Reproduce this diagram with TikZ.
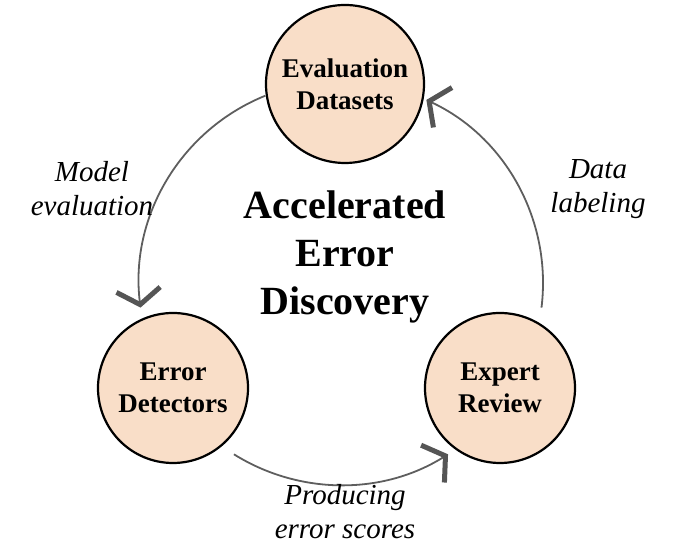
\documentclass[tikz,border=0pt]{standalone}
\usepackage{fontspec}
\setmainfont{Liberation Serif}
\usetikzlibrary{arrows.meta}
\definecolor{cfill}{HTML}{F9DEC8}
\definecolor{arc}{HTML}{5E5E5E}
\tikzset{
  stage/.style={circle,draw=black,line width=2.2pt,fill=cfill,minimum size=158pt,inner sep=0pt,align=center,font=\bfseries\fontsize{27}{32}\selectfont},
  flow/.style={draw=arc,line width=1.8pt,-{Straight Barb[length=15pt,width=44pt,line width=5pt,color=arc!90!black]}},
  lbl/.style={font=\itshape\fontsize{29}{34}\selectfont,align=center},
}
\begin{document}
\begin{tikzpicture}[x=1pt,y=1pt]
\useasboundingbox (0,0) rectangle (686,545);
\coordinate (C) at (341,262);
\draw[flow] ([shift={(112:202)}]C) arc (112:187:202);
\draw[flow] ([shift={(238:202)}]C) arc (238:302:202);
\draw[flow] ([shift={(353:202)}]C) arc (-7:65:202);
\node[stage] (top) at (345,461) {Evaluation\\Datasets};
\node[stage,minimum size=150pt] (left) at (173,157) {Error\\Detectors};
\node[stage,minimum size=150pt] (right) at (500,157) {Expert\\Review};
\node[font=\bfseries\fontsize{40}{48}\selectfont,align=center] (center) at (345,288) {Accelerated\\Error\\Discovery};
\node[lbl] (me) at (92,356) {Model\\evaluation};
\node[lbl] (dl) at (598,356) {Data\\labeling};
\node[lbl] (pe) at (345,33) {Producing\\error scores};
\end{tikzpicture}
\end{document}
